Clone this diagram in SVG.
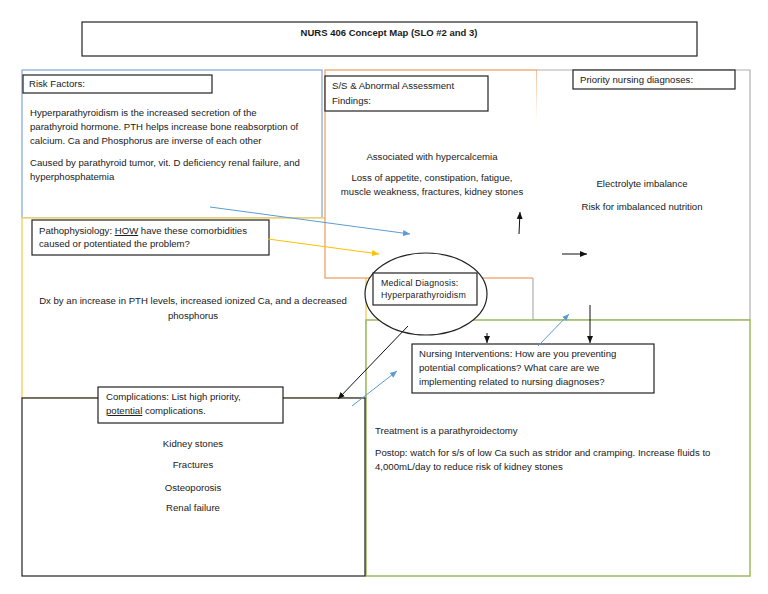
<svg xmlns="http://www.w3.org/2000/svg" width="768" height="594" viewBox="0 0 768 594">
<defs>
<style>
text{font-family:"Liberation Sans",Arial,sans-serif;font-size:9.6px;fill:#1a1a1a}
.c{text-anchor:middle}
.lbl{fill:#fff;stroke:#222;stroke-width:1.2}
.t{font-weight:bold;font-size:9.5px}
.md{font-size:8.8px;letter-spacing:0.2px}
</style>
<marker id="ak" markerWidth="8" markerHeight="8" refX="7" refY="4" orient="auto" markerUnits="userSpaceOnUse"><path d="M0,1 L7,4 L0,7 Z" fill="#111"/></marker>
<marker id="ab" markerWidth="8" markerHeight="8" refX="7" refY="4" orient="auto" markerUnits="userSpaceOnUse"><path d="M0,1 L7,4 L0,7 Z" fill="#5b9bd5"/></marker>
<marker id="ay" markerWidth="8" markerHeight="8" refX="7" refY="4" orient="auto" markerUnits="userSpaceOnUse"><path d="M0,1 L7,4 L0,7 Z" fill="#ffc000"/></marker>
</defs>
<rect width="768" height="594" fill="#fff"/>

<g id="title">
<rect x="82" y="22" width="615" height="34" fill="#fff" stroke="#222" stroke-width="1.2"/>
<text class="c t" x="389" y="36">NURS 406 Concept Map (SLO #2 and 3)</text>
</g>

<g id="risk">
<rect x="22" y="70" width="300" height="148" fill="#fff" stroke="#7ea6d8" stroke-width="1.2"/>
<rect class="lbl" x="23" y="75" width="189" height="18"/>
<text x="29" y="87">Risk Factors:</text>
<text x="30" y="116">Hyperparathyroidism is the increased secretion of the</text>
<text x="30" y="130">parathyroid hormone. PTH helps increase bone reabsorption of</text>
<text x="30" y="144">calcium. Ca and Phosphorus are inverse of each other</text>
<text x="30" y="166">Caused by parathyroid tumor, vit. D deficiency renal failure, and</text>
<text x="30" y="180">hyperphosphatemia</text>
</g>

<g id="patho">
<rect x="22" y="218" width="344" height="180" fill="#fff" stroke="#f5d36a" stroke-width="1.5"/>
<rect class="lbl" x="32" y="220" width="237" height="35"/>
<text x="39" y="234">Pathophysiology: <tspan text-decoration="underline">HOW</tspan> have these comorbidities</text>
<text x="39" y="247">caused or potentiated the problem?</text>
<text class="c" x="193" y="304">Dx by an increase in PTH levels, increased ionized Ca, and a decreased</text>
<text class="c" x="193" y="319">phosphorus</text>
</g>

<g id="ss">
<rect x="325" y="70" width="212" height="208" fill="#fff" stroke="#ed9a5a" stroke-width="1.2"/>
<rect class="lbl" x="325" y="76" width="163" height="35"/>
<text x="332" y="89">S/S &amp; Abnormal Assessment</text>
<text x="332" y="104">Findings:</text>
<text class="c" x="432" y="160">Associated with hypercalcemia</text>
<text class="c" x="432" y="181">Loss of appetite, constipation, fatigue,</text>
<text class="c" x="432" y="195">muscle weakness, fractures, kidney stones</text>
</g>

<g id="priority">
<path d="M537,70 H750 V320 H533 V278" fill="#fff" stroke="#b0b0b0" stroke-width="1.2"/>
<rect class="lbl" x="573" y="70" width="162" height="19"/>
<text x="580" y="83">Priority nursing diagnoses:</text>
<text class="c" x="642" y="187">Electrolyte imbalance</text>
<text class="c" x="642" y="210">Risk for imbalanced nutrition</text>
</g>

<g id="interventions">
<rect x="366" y="320" width="384" height="256" fill="#fff" stroke="#9bbb59" stroke-width="1.5"/>
<rect class="lbl" x="412" y="344" width="242" height="49"/>
<text x="419" y="357">Nursing Interventions: How are you preventing</text>
<text x="419" y="371">potential complications? What care are we</text>
<text x="419" y="385">implementing related to nursing diagnoses?</text>
<text x="375" y="434">Treatment is a parathyroidectomy</text>
<text x="375" y="456">Postop: watch for s/s of low Ca such as stridor and cramping. Increase fluids to</text>
<text x="375" y="470">4,000mL/day to reduce risk of kidney stones</text>
</g>

<g id="complications">
<rect x="22" y="398" width="343" height="178" fill="#fff" stroke="#222" stroke-width="1.2"/>
<rect class="lbl" x="98" y="387" width="185" height="36"/>
<text x="106" y="400">Complications: List high priority,</text>
<text x="106" y="414"><tspan text-decoration="underline">potential</tspan> complications.</text>
<text class="c" x="193" y="447">Kidney stones</text>
<text class="c" x="193" y="468">Fractures</text>
<text class="c" x="193" y="491">Osteoporosis</text>
<text class="c" x="193" y="511">Renal failure</text>
</g>

<g id="diagnosis">
<ellipse cx="426" cy="294" rx="61" ry="41" fill="#fff" stroke="#222" stroke-width="1.2"/>
<rect class="lbl" x="373" y="273" width="104" height="32"/>
<text class="md" x="381" y="286">Medical Diagnosis:</text>
<text class="md" x="381" y="298">Hyperparathyroidism</text>
</g>

<g id="connectors" fill="none" stroke-width="1">
<line x1="210" y1="207" x2="410" y2="234" stroke="#5b9bd5" marker-end="url(#ab)"/>
<line x1="268" y1="239" x2="379" y2="254" stroke="#ffc000" marker-end="url(#ay)"/>
<line x1="519" y1="234" x2="520" y2="212" stroke="#111" marker-end="url(#ak)"/>
<line x1="562" y1="254" x2="587" y2="254" stroke="#111" marker-end="url(#ak)"/>
<line x1="590" y1="305" x2="590" y2="343" stroke="#111" marker-end="url(#ak)"/>
<line x1="487" y1="333" x2="487" y2="343" stroke="#111" marker-end="url(#ak)"/>
<line x1="538" y1="346" x2="569" y2="314" stroke="#5b9bd5" marker-end="url(#ab)"/>
<line x1="408" y1="326" x2="338" y2="399" stroke="#111" marker-end="url(#ak)"/>
<line x1="352" y1="406" x2="397" y2="371" stroke="#5b9bd5" marker-end="url(#ab)"/>
</g>
</svg>
